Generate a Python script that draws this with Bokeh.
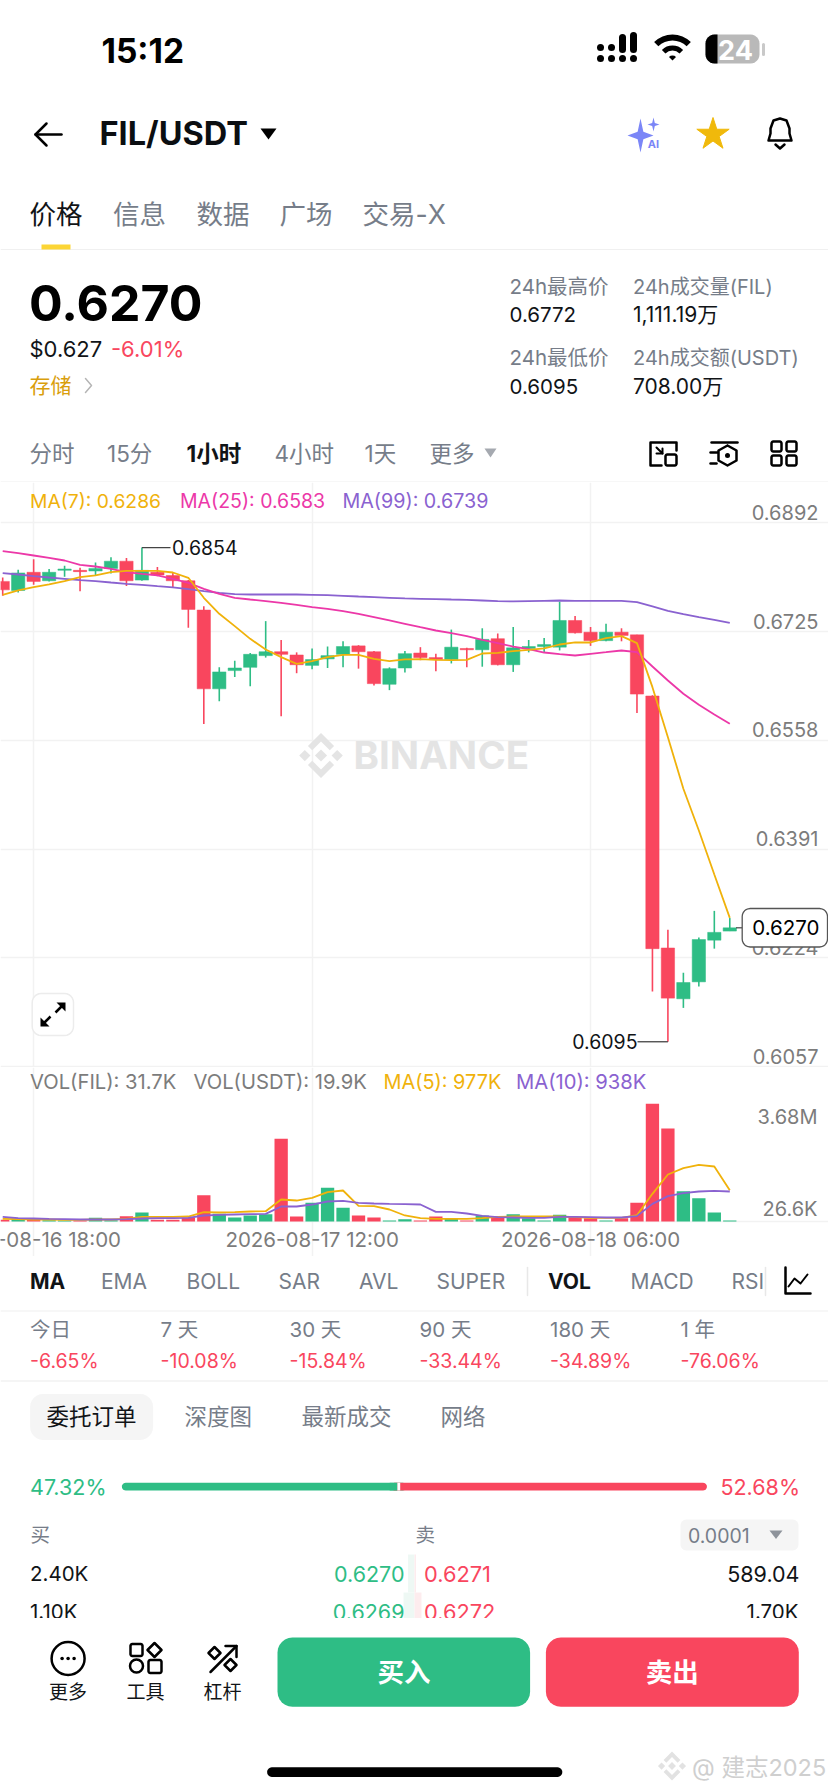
import math
from bokeh.plotting import figure
from bokeh.layouts import column
from bokeh.models import Range1d, LinearAxis, FixedTicker, Grid, ColumnDataSource
from bokeh.core.properties import value
from bokeh.embed import file_html
from bokeh.resources import INLINE

# ---------- data ----------
candle_open = [.6802,.6788,.6816,.6803,.6819,.6819,.6818,.6822,.6833,.6804,.6816,.6811,.6803,.6758,.6637,.6665,.6670,.6688,.6694,.6689,.6673,.6683,.6690,.6703,.6694,.6644,.6669,.6692,.6685,.6682,.6699,.6697,.6714,.6674,.6699,.6702,.6701,.6742,.6724,.6711,.6724,.6720,.6626,.6239,.6161,.6187,.6251,.6265]
candle_high = [.6808,.6820,.6836,.6821,.6826,.6823,.6831,.6839,.6838,.6854,.6824,.6815,.6804,.6764,.6670,.6680,.6692,.6741,.6712,.6693,.6699,.6702,.6710,.6704,.6695,.6670,.6695,.6701,.6691,.6728,.6700,.6730,.6722,.6732,.6712,.6715,.6771,.6749,.6732,.6737,.6730,.6720,.6627,.6267,.6201,.6255,.6296,.6285]
candle_low = [.6780,.6785,.6797,.6802,.6809,.6787,.6811,.6814,.6795,.6803,.6810,.6793,.6731,.6583,.6618,.6655,.6641,.6685,.6595,.6661,.6667,.6669,.6670,.6668,.6642,.6635,.6662,.6681,.6664,.6676,.6670,.6671,.6673,.6663,.6693,.6693,.6696,.6722,.6703,.6710,.6710,.6600,.6172,.6095,.6147,.6180,.6238,.6265]
candle_close = [.6789,.6815,.6802,.6816,.6821,.6817,.6822,.6833,.6803,.6819,.6812,.6803,.6759,.6637,.6663,.6669,.6690,.6694,.6690,.6674,.6682,.6688,.6702,.6694,.6645,.6668,.6691,.6685,.6682,.6701,.6697,.6713,.6674,.6700,.6702,.6705,.6742,.6723,.6711,.6724,.6719,.6629,.6238,.6162,.6186,.6252,.6263,.6270]
ma7 = [.67814,.67881,.67932,.67973,.68024,.68085,.68111,.68162,.68183,.68183,.68183,.68157,.68075,.67768,.67522,.67333,.67138,.66975,.66857,.66754,.66795,.66857,.66893,.66893,.66831,.66795,.66821,.66826,.66816,.66811,.66816,.66913,.66923,.66949,.66969,.66990,.67051,.67082,.67082,.67149,.67179,.67072,.66396,.65628,.64835,.64194,.63518,.62853]
ma25 = [.68485,.68454,.68418,.68382,.68341,.68275,.68249,.68213,.68162,.68136,.68111,.68060,.67998,.67906,.67829,.67768,.67742,.67717,.67691,.67660,.67625,.67599,.67563,.67522,.67471,.67420,.67369,.67317,.67266,.67225,.67179,.67123,.67072,.67020,.66979,.66928,.66903,.66882,.66908,.66933,.66959,.66933,.66713,.66498,.66294,.66125,.65976,.65833]
ma99 = [.68147,.68126,.68101,.68080,.68060,.68039,.68024,.68003,.67983,.67968,.67947,.67927,.67901,.67870,.67845,.67824,.67819,.67819,.67819,.67819,.67814,.67809,.67799,.67788,.67778,.67768,.67758,.67753,.67748,.67742,.67737,.67727,.67717,.67712,.67717,.67722,.67727,.67722,.67722,.67722,.67722,.67701,.67635,.67568,.67517,.67471,.67430,.67384]
volume = [52,83,83,42,31,31,115,42,167,281,52,52,115,823,240,125,188,229,2584,156,584,1052,427,188,125,31,73,31,156,83,31,188,156,229,104,31,208,135,104,31,104,584,3680,2907,948,729,281,32]
vol_ma5 = [83,73,63,63,52,52,63,63,83,146,146,146,156,292,281,292,313,323,688,656,740,917,969,490,479,375,188,104,83,83,83,104,146,156,156,156,156,135,115,115,115,198,865,1469,1667,1771,1719,977]
vol_ma10 = [146,104,94,83,73,63,63,63,73,94,104,104,115,188,208,219,229,240,469,469,531,625,646,584,563,552,542,531,302,302,250,177,135,125,115,115,146,146,135,125,125,167,552,792,886,938,959,938]
price_ticks = [.6892,.6725,.6558,.6391,.6224,.6057]
time_ticks = [2,20,38]
time_labels = ["2026-08-16 18:00","2026-08-17 12:00","2026-08-18 06:00"]
vol_tick_values = [3680,26.6]
vol_tick_labels = ["3.68M","26.6K"]
price_high_label = "0.6854"; price_low_label = "0.6095"; last_price = 0.6270
page_tabs = ["价格","信息","数据","广场","交易-X"]
intervals = ["分时","15分","1小时","4小时","1天","更多"]
indicators = ["MA","EMA","BOLL","SAR","AVL","SUPER","VOL","MACD","RSI"]
period_names = ["今日","7 天","30 天","90 天","180 天","1 年"]
period_changes = ["-6.65%","-10.08%","-15.84%","-33.44%","-34.89%","-76.06%"]
book_tabs = ["委托订单","深度图","最新成交","网络"]
bid_ratio, ask_ratio = 47.32, 52.68

# ---------- styles ----------
FONT = "Inter, 'Noto Sans CJK SC'"
GREEN, RED = "#2ebd85", "#f9465e"
GRAY, INK = "#767d89", "#111417"
AXIS = "#7c7c7c"; GRID = "#f2f2f2"
YEL, PINK, PUR = "#f0b20b", "#ec38a8", "#8a62d0"

def chrome(top, bottom):
    return figure(width=828, height=bottom-top, x_range=Range1d(0,828), y_range=Range1d(bottom,top),
                  x_axis_type=None, y_axis_type=None, tools="", toolbar_location=None,
                  output_backend="svg", min_border=0, outline_line_color=None)

def T(p, x, y, s, size, color=INK, align="left", bold=False, base="middle", level="glyph"):
    p.text(x=[x], y=[y], text=[s], text_font=value(FONT), text_font_size=value(f"{size}px"),
           text_color=color, text_align=align, text_baseline=base,
           text_font_style="bold" if bold else "normal", level=level)

def L(p, xs, ys, color="#000000", w=2.5, cap="round"):
    p.line(xs, ys, line_color=color, line_width=w, line_cap=cap, line_join="round")

def rr(l, t, r, b, rad):
    xs, ys = [], []
    for cx, cy, a0 in ((r-rad,t+rad,-90),(r-rad,b-rad,0),(l+rad,b-rad,90),(l+rad,t+rad,180)):
        for k in range(7):
            a = math.radians(a0+15*k)
            xs.append(cx+rad*math.cos(a)); ys.append(cy+rad*math.sin(a))
    return xs, ys

def box(p, l, t, r, b, rad, fill="#ffffff", line=None, w=1.5, fx=lambda v:v, fy=lambda v:v, level="glyph"):
    xs, ys = rr(l,t,r,b,rad)
    p.patch([fx(v) for v in xs], [fy(v) for v in ys], fill_color=fill, line_color=line, line_width=w, level=level)

def poly(p, xs, ys, fill, fx=lambda v:v, fy=lambda v:v):
    p.patch([fx(v) for v in xs], [fy(v) for v in ys], fill_color=fill, line_color=None)

def star4(p, cx, cy, rx, ry, fill):
    w = 0.22
    poly(p, [cx,cx+rx*w,cx+rx,cx+rx*w,cx,cx-rx*w,cx-rx,cx-rx*w],
            [cy-ry,cy-ry*w,cy,cy+ry*w,cy+ry,cy+ry*w,cy,cy-ry*w], fill)

def binance_logo(p, cx, cy, s, color, fx=lambda v:v, fy=lambda v:v):
    def dm(x,y,r): poly(p,[cx+s*(x+r),cx+s*x,cx+s*(x-r),cx+s*x],[cy+s*y,cy+s*(y+r),cy+s*y,cy+s*(y-r)],color,fx,fy)
    dm(0,0,.27); dm(-.72,0,.25); dm(.72,0,.25)
    for sg in (1,-1):
        poly(p,[cx,cx+s*.58,cx+s*.39,cx,cx-s*.39,cx-s*.58],
               [cy-sg*s,cy-sg*s*.42,cy-sg*s*.23,cy-sg*s*.62,cy-sg*s*.23,cy-sg*s*.42],color,fx,fy)

# ---------- top chrome ----------
top = chrome(0, 482)
T(top, 101, 50, "15:12", 33.5, "#000000", bold=True)
for x, ups in ((600,[(47,47)]),(611,[(47,47)]),(622,[(37,49)]),(633,[(35,49)])):
    L(top,[x,x],[58,58],w=7)
    for a,b in ups: L(top,[x,x],[a,b],w=7)
for ri, ro in ((0,5),(10,15),(20,26)):
    top.annular_wedge(x=[672],y=[60],inner_radius=ri,outer_radius=ro,start_angle=math.pi/4,end_angle=3*math.pi/4,fill_color="#000000",line_color=None)
box(top,705,34,759,63,9,"#b9b9b9")
xs,ys = rr(705,34,735,63,9)
poly(top,[min(v,717) for v in xs],ys,"#000000")
T(top,735,49,"24",27,"#ffffff",align="center",bold=True)
L(top,[763,763],[44,54],"#c9c9c9",3)
L(top,[61,35],[134,134]); L(top,[46,35,46],[123,134,145])
T(top,99,133,"FIL/USDT",32.5,"#0b0e11",bold=True)
poly(top,[260,276,268],[128,128,139],"#000000")
star4(top,640,135,13,17,"#7b86f7"); star4(top,653,124,6,7,"#7b86f7")
T(top,653,143,"AI",11,"#7b86f7",align="center",bold=True)
top.scatter([712.5],[134],marker="star",size=34,fill_color="#f0b90b",line_color="#f0b90b")
L(top,[768,770,770,773,779.5,786,789,789,791,768],[140,133,128,120,118,120,128,133,140,140],w=2.5)
L(top,[775,779.5,784],[144,148,144],w=2.5)

for x,s,c in zip((29,112.5,196,279,362),page_tabs,(INK,GRAY,GRAY,GRAY,GRAY)):
    T(top,x,213,s,26.5,c)
top.quad(left=[0],right=[828],top=[248.5],bottom=[249.5],fill_color="#f0f0f0",line_color=None)
top.quad(left=[41],right=[70],top=[244],bottom=[249],fill_color="#fcd535",line_color=None)

T(top,28.5,302,"0.6270",50,"#000000",bold=True)
T(top,29,348,"$0.627",22,INK)
T(top,110.5,348,"-6.01%",22,RED)
T(top,29,385,"存储",21,"#d99e0c")
L(top,[85,91,85],[378,385,392],"#b5b5b5",1.5)
T(top,509,286,"24h最高价",20.5,GRAY); T(top,632.5,286,"24h成交量(FIL)",20,GRAY)
T(top,509,314,"0.6772",20.5); T(top,632.5,314,"1,111.19万",21)
T(top,509,357,"24h最低价",20.5,GRAY); T(top,632.5,357,"24h成交额(USDT)",20,GRAY)
T(top,509,386,"0.6095",20.5); T(top,632.5,386,"708.00万",21)

for x,s in zip((29,106.5,186,274,364,429),intervals):
    T(top,x,453,s,22.5,INK if s=="1小时" else GRAY,bold=(s=="1小时"))
poly(top,[484,496,490],[448,448,457],"#a5a9b0")
L(top,[676,676,650,650,661],[450,442,442,465,465]); L(top,[656,662,662],[447,453,448],w=2); L(top,[656,662],[453,453],w=2)
box(top,665,454,676,465,2,"#ffffff","#000000",2.5)
L(top,[711,737],[442,442]); L(top,[710,717],[452,452]); L(top,[710,716],[463,463])
L(top,[727,736,736,727,718,718,727],[445,450,460,465,460,450,445])
top.circle(x=[727],y=[455],radius=2.5,fill_color="#000000",line_color=None)
for l,t_ in ((771,441),(786,441),(771,455),(786,455)):
    box(top,l,t_,l+10,t_+10,2,"#ffffff","#000000",2.5)
top.quad(left=[0],right=[828],top=[481],bottom=[482],fill_color="#f0f0f0",line_color=None)

# ---------- price chart ----------
N = len(candle_open)
idx = list(range(N))
PX0, PXSTEP = 2.2, 15.47
X = lambda px: (px-PX0)/PXSTEP
PK = 0.0167/108.74
Y = lambda py: 0.6892-(py-522.3)*PK
P_TOP, P_BOT = 482, 1067
pr = figure(width=828, height=P_BOT-P_TOP, x_range=Range1d(X(0),X(828)), y_range=Range1d(Y(P_BOT),Y(P_TOP)),
            x_axis_type=None, y_axis_type=None, tools="", toolbar_location=None,
            output_backend="svg", min_border=0, outline_line_color=None)
pr.add_layout(Grid(dimension=1, ticker=FixedTicker(ticks=price_ticks), grid_line_color=GRID, grid_line_width=1.5))
pr.add_layout(Grid(dimension=0, ticker=FixedTicker(ticks=time_ticks), grid_line_color=GRID, grid_line_width=1.5))
label_lift = 10.3*PK  # the tick labels sit just above their grid lines
label_ticks = [t+label_lift for t in price_ticks]
pa = LinearAxis(fixed_location=X(824), ticker=FixedTicker(ticks=label_ticks),
                major_label_overrides={a:f"{t:.4f}" for a,t in zip(label_ticks,price_ticks)},
                axis_line_color=None, major_tick_line_color=None, minor_tick_line_color=None,
                major_label_standoff=0, major_label_text_font=FONT, major_label_text_font_size="20px",
                major_label_text_color=AXIS)
pr.add_layout(pa, "left")

T(pr,X(29.5),Y(500),"MA(7): 0.6286",19.3,YEL)
T(pr,X(179.5),Y(500),"MA(25): 0.6583",19.5,PINK)
T(pr,X(342),Y(500),"MA(99): 0.6739",19.7,PUR)

binance_logo(pr,320.5,755,22.5,"#e4e4e4",X,Y)
T(pr,X(353),Y(754),"BINANCE",38.5,"#e4e4e4",bold=True)

colors = [GREEN if c>=o else RED for o,c in zip(candle_open,candle_close)]
src = ColumnDataSource(dict(i=idx,o=candle_open,h=candle_high,l=candle_low,c=candle_close,col=colors,v=volume))
pr.segment(x0="i",x1="i",y0="l",y1="h",source=src,line_color="col",line_width=1.6)
pr.vbar(x="i",width=0.86,top="o",bottom="c",source=src,fill_color="col",line_color="col",line_width=0.5)
pr.line(idx,ma99,line_color=PUR,line_width=1.8)
pr.line(idx,ma25,line_color=PINK,line_width=1.8)
pr.line(idx,ma7,line_color=YEL,line_width=1.8)

hi_i = candle_high.index(max(candle_high)); lo_i = candle_low.index(min(candle_low))
pr.segment(x0=[hi_i],x1=[X(170)],y0=[max(candle_high)],y1=[max(candle_high)],line_color="#444444",line_width=1.3)
T(pr,X(171.5),max(candle_high),price_high_label,19.5)
pr.segment(x0=[X(637)],x1=[lo_i],y0=[min(candle_low)],y1=[min(candle_low)],line_color="#444444",line_width=1.3)
T(pr,X(637),min(candle_low),price_low_label,19.5,align="right")

pr.segment(x0=[N-1+0.4],x1=[X(742)],y0=[last_price],y1=[last_price],line_color="#444444",line_width=1.2)
box(pr,741.7,908,827,946.5,8,"#ffffff","#555555",1.3,X,Y,level="overlay")
T(pr,X(819),last_price,f"{last_price:.4f}",20.5,"#000000",align="right",level="overlay")

box(pr,31.7,993,73,1035,9,"#ffffff","#ececec",1.5,X,Y)
pr.line([X(43),X(50)],[Y(1023),Y(1016)],line_color="#000000",line_width=2.5)
pr.line([X(55),X(62)],[Y(1012),Y(1005)],line_color="#000000",line_width=2.5)
poly(pr,[40,40,49],[1017,1026,1026],"#000000",X,Y)
poly(pr,[65,65,56],[1011,1002,1002],"#000000",X,Y)

# ---------- volume chart ----------
V_TOP, V_BOT = P_BOT, 1256
VK = 31.26
V = lambda py: (1221-py)*VK
vo = figure(width=828, height=V_BOT-V_TOP, x_range=Range1d(X(0),X(828)), y_range=Range1d(V(V_BOT),V(V_TOP)),
            x_axis_type=None, y_axis_type=None, tools="", toolbar_location=None,
            output_backend="svg", min_border=0, outline_line_color=None)
vo.add_layout(Grid(dimension=1, ticker=FixedTicker(ticks=[0]), grid_line_color=GRID, grid_line_width=1.5))
vo.add_layout(Grid(dimension=0, ticker=FixedTicker(ticks=time_ticks), bounds=(0,V(V_TOP)), grid_line_color=GRID, grid_line_width=1.5))
# text glyphs, because an axis would pull the first date label inside the page
vo.text(x=time_ticks,y=[0,0,0],text=time_labels,y_offset=18,text_font=value(FONT),text_font_size=value("20.5px"),
        text_color=AXIS,text_align="center",text_baseline="middle")
T(vo,X(29.5),V(1081),"VOL(FIL): 31.7K",20.2,AXIS)
T(vo,X(193),V(1081),"VOL(USDT): 19.9K",20.2,AXIS)
T(vo,X(383),V(1081),"MA(5): 977K",19.9,YEL)
T(vo,X(515.5),V(1081),"MA(10): 938K",20.2,PUR)
vo.vbar(x="i",width=0.86,top="v",bottom=0,source=src,fill_color="col",line_color=None)
vo.line(idx,vol_ma5,line_color=YEL,line_width=1.8)
vo.line(idx,vol_ma10,line_color=PUR,line_width=1.8)
for val,lab,off in zip(vol_tick_values,vol_tick_labels,(13,-12)):
    vo.text(x=[X(817)],y=[val],text=[lab],y_offset=off,text_font=value(FONT),text_font_size=value("20px"),
            text_color=AXIS,text_align="right",text_baseline="middle")

# ---------- bottom chrome ----------
bt = chrome(1256, 1792)
for x,s in zip((29.5,100.5,186,278,358.5,436,547.5,630,731),indicators):
    on = s in ("MA","VOL")
    T(bt,x,1281,s,21,INK if on else GRAY,bold=on)
L(bt,[527,527],[1267,1295],"#e8e8e8",1.5)
bt.quad(left=[763.5],right=[784],top=[1260],bottom=[1300],fill_color="#ffffff",line_color=None)
L(bt,[765,765],[1267,1295],"#e8e8e8",1.5)
L(bt,[785,785,810],[1267,1293,1293]); L(bt,[788,794,800,807],[1286,1278,1283,1274],w=2)
bt.quad(left=[0],right=[828],top=[1310],bottom=[1311],fill_color="#f0f0f0",line_color=None)
for x,a,b in zip((29.5,160,289,419,549.6,680),period_names,period_changes):
    T(bt,x,1329,a,20.5,GRAY); T(bt,x,1360.6,b,19.5,RED)
bt.quad(left=[0],right=[828],top=[1380],bottom=[1381],fill_color="#ececec",line_color=None)
box(bt,29.6,1393.4,152.6,1439.4,13,"#f5f5f5")
for x,s,c in zip((46,184,301,440),book_tabs,(INK,GRAY,GRAY,GRAY)):
    T(bt,x,1416,s,22.5,c)
T(bt,29.5,1486.4,f"{bid_ratio:.2f}%",21.5,GREEN)
T(bt,799.5,1486.4,f"{ask_ratio:.2f}%",21.5,RED,align="right")
BAR_L, BAR_W = 121.4, 585
mid = BAR_L+BAR_W*bid_ratio/100
box(bt,BAR_L,1482.3,mid+8,1490,3.8,GREEN)
box(bt,mid-8,1482.3,BAR_L+BAR_W,1490,3.8,RED)
bt.quad(left=[mid-1.5],right=[mid+1.5],top=[1482.3],bottom=[1490],fill_color="#ffffff",line_color=None)
bt.quad(left=[mid-9],right=[mid-1.5],top=[1482.3],bottom=[1490],fill_color=GREEN,line_color=None)
T(bt,30,1534.5,"买",19.5,GRAY); T(bt,415,1534.5,"卖",19.5,GRAY)
box(bt,680,1519,798,1550,6,"#f5f5f5")
T(bt,687.4,1534.5,"0.0001",19.5,GRAY)
poly(bt,[769,782,775.5],[1530,1530,1538.6],"#8e939b")
bt.quad(left=[407.6],right=[414],top=[1554],bottom=[1592],fill_color="#eef8f4",line_color=None)
bt.quad(left=[414],right=[415.5],top=[1554],bottom=[1592],fill_color="#fdecee",line_color=None)
bt.quad(left=[403],right=[414],top=[1592],bottom=[1618],fill_color="#eef8f4",line_color=None)
bt.quad(left=[414],right=[421],top=[1592],bottom=[1618],fill_color="#fdecee",line_color=None)
T(bt,29.5,1573.2,"2.40K",20.5); T(bt,404,1573.2,"0.6270",21.5,GREEN,align="right")
T(bt,423.5,1573.2,"0.6271",21.8,RED); T(bt,799,1573.2,"589.04",21.5,align="right")
T(bt,29.5,1611,"1.10K",20.5); T(bt,404,1611,"0.6269",21.5,GREEN,align="right")
T(bt,423.5,1611,"0.6272",21.8,RED); T(bt,798,1611,"1.70K",20.5,align="right")
bt.quad(left=[0],right=[828],top=[1617.4],bottom=[1636],fill_color="#ffffff",line_color=None)

bt.circle(x=[67.6],y=[1658],radius=16.5,fill_color=None,line_color="#000000",line_width=2.5)
for dx in (-6,0,6):
    bt.circle(x=[67.6+dx],y=[1658],radius=1.8,fill_color="#000000",line_color=None)
D = 14.5
box(bt,130,1629+D,142,1641+D,2,"#ffffff","#000000",2.5)
L(bt,[154,161,154,147,154],[1628+D,1635+D,1642+D,1635+D,1628+D])
bt.circle(x=[136],y=[1651+D],radius=6.5,fill_color=None,line_color="#000000",line_width=2.5)
box(bt,148,1645+D,161,1658+D,2,"#ffffff","#000000",2.5)
L(bt,[210,236],[1657+D,1631+D]); L(bt,[225,236,236],[1631+D,1631+D,1642+D])
L(bt,[214,220,214,208,214],[1632+D,1638+D,1644+D,1638+D,1632+D])
L(bt,[230,236,230,224,230],[1644+D,1650+D,1656+D,1650+D,1644+D])
for x,s in zip((67.6,145,222),("更多","工具","杠杆")):
    T(bt,x,1692,s,19,"#111417",align="center")
box(bt,277,1637,529.6,1706.3,15,GREEN)
box(bt,545.4,1637,798.3,1706.3,15,RED)
T(bt,403.4,1671.7,"买入",26.5,"#ffffff",align="center",bold=True)
T(bt,671.8,1671.7,"卖出",26.5,"#ffffff",align="center",bold=True)
box(bt,266.6,1766.8,561.8,1776.4,4.8,"#000000")
binance_logo(bt,671.5,1765.5,14.5,"#e2e2e2")
T(bt,691.6,1767,"@ 建志2025",23.5,"#cfcfcf")

page = column(top, pr, vo, bt, spacing=0, margin=0)
open("out.html","w").write(file_html(page, INLINE))
